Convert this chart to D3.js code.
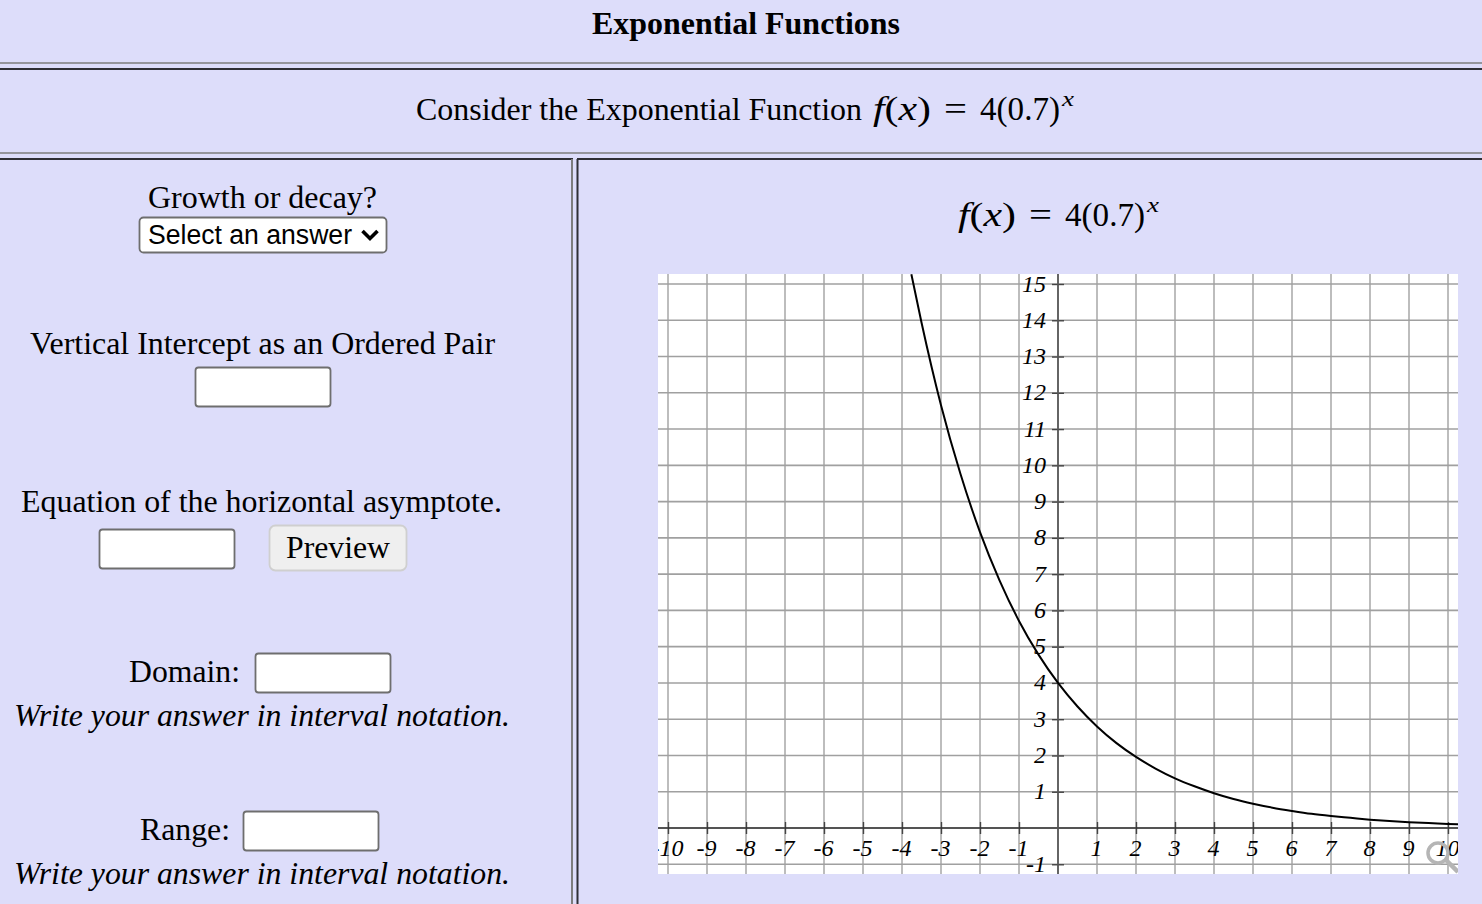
<!DOCTYPE html>
<html><head><meta charset="utf-8">
<script src="https://cdn.jsdelivr.net/npm/d3@7"></script>
<style>
html,body{margin:0;padding:0;background:#ddddfa;overflow:hidden}
svg{display:block}
text{font-family:"Liberation Serif","Times New Roman",serif;fill:#000}
</style></head><body>
<svg id="page" width="1482" height="904"></svg>
<script>
// chart data
const curveX = [-3.76,-3.5,-3,-2.5,-2,-1.5,-1,-0.5,0,0.5,1,1.5,2,2.5,3,3.5,4,4.5,5,5.5,6,6.5,7,7.5,8,8.5,9,9.5,10,10.26];
const curveY = [15.27,13.94,11.66,9.76,8.16,6.83,5.71,4.78,4,3.35,2.8,2.34,1.96,1.64,1.37,1.15,0.96,0.80,0.67,0.56,0.47,0.39,0.33,0.28,0.23,0.19,0.16,0.135,0.113,0.10];
const xTicks = [-10,-9,-8,-7,-6,-5,-4,-3,-2,-1,1,2,3,4,5,6,7,8,9,10];
const yTicks = [-1,1,2,3,4,5,6,7,8,9,10,11,12,13,14,15];
const gridX = [-10,-9,-8,-7,-6,-5,-4,-3,-2,-1,0,1,2,3,4,5,6,7,8,9,10];
const gridY = [-1,0,1,2,3,4,5,6,7,8,9,10,11,12,13,14,15];
const pageTitle = "Exponential Functions";
const prompt = "Consider the Exponential Function";
const labels = ["Growth or decay?","Vertical Intercept as an Ordered Pair","Equation of the horizontal asymptote.","Domain:","Range:"];
const hint = "Write your answer in interval notation.";
const selectLabel = "Select an answer";
const buttonLabel = "Preview";

const svg = d3.select("#page");
const W = 1482, H = 904;
const plot = {l:658, r:1458, t:274, b:874};

function line(x1,y1,x2,y2,c,w){svg.append("line").attr("x1",x1).attr("y1",y1).attr("x2",x2).attr("y2",y2).attr("stroke",c).attr("stroke-width",w);}
function txt(s,x,y,len,o={}){
  return svg.append("text").attr("x",x).attr("y",y).attr("font-size",o.size||32)
    .attr("font-weight",o.bold?"bold":null).attr("font-style",o.italic?"italic":null)
    .attr("textLength",len).attr("lengthAdjust","spacingAndGlyphs")
    .style("font-family",o.family||null).text(s);
}
function box(x,y,w,h){svg.append("rect").attr("x",x+.5).attr("y",y+.5).attr("width",w-1).attr("height",h-1).attr("rx",3).attr("fill","#fff").attr("stroke","#6e6e6e").attr("stroke-width",1.8);}
function formula(x0,base){
  const a = svg.append("text").attr("x",x0).attr("y",base).attr("font-size",34)
    .attr("textLength",58).attr("lengthAdjust","spacingAndGlyphs");
  a.append("tspan").attr("font-style","italic").text("f");
  a.append("tspan").text("(");
  a.append("tspan").attr("font-style","italic").text("x");
  a.append("tspan").text(")");
  txt("=",x0+71,base,23,{size:34});
  txt("4(0.7)",x0+107,base,80,{size:34});
  txt("x",x0+189,base-14,12,{size:21,italic:true});
}

// page frame
line(0,63,W,63,"#7d7d7d",1.6);
line(0,69,W,69,"#2f2f35",2);
line(0,153,W,153,"#7d7d7d",1.6);
line(0,159,573,159,"#2f2f35",2);
line(577,159,W,159,"#2f2f35",2);
line(572,159,572,H,"#7d7d7d",2);
line(577.5,159,577.5,H,"#2f2f35",2);

// headings
txt(pageTitle,592,34,308,{bold:true});
txt(prompt,416,120,446);
formula(873,120);
formula(958,226);

// left form
txt(labels[0],148,208,229);
svg.append("rect").attr("x",139.5).attr("y",217.5).attr("width",247).attr("height",35).attr("rx",4).attr("fill","#fff").attr("stroke","#6e6e6e").attr("stroke-width",1.8);
txt(selectLabel,148,244,204,{size:27,family:"'Liberation Sans',Arial,sans-serif"});
svg.append("path").attr("d","M362.5 231l7.5 7.5 7.5-7.5").attr("fill","none").attr("stroke","#000").attr("stroke-width",3.6);
txt(labels[1],30,354,465);
box(195,367,136,40);
txt(labels[2],21,512,481);
box(99,529,136,40);
svg.append("rect").attr("x",269.5).attr("y",525.5).attr("width",137).attr("height",45).attr("rx",6).attr("fill","#efefef").attr("stroke","#cfcfcf").attr("stroke-width",1.8);
txt(buttonLabel,286,558,104);
txt(labels[3],129,682,111);
box(255,653,136,40);
txt(hint,14,726,496,{italic:true});
txt(labels[4],140,840,90);
box(243,811,136,40);
txt(hint,14,884,496,{italic:true});

// plot
const x = d3.scaleLinear().domain([-10,10]).range([668,1448]);
const y = d3.scaleLinear().domain([0,15]).range([828,284]);
svg.append("rect").attr("x",plot.l).attr("y",plot.t).attr("width",plot.r-plot.l).attr("height",plot.b-plot.t).attr("fill","#fff");
const defs = svg.append("defs");
defs.append("clipPath").attr("id","plotclip").append("rect").attr("x",plot.l).attr("y",plot.t).attr("width",plot.r-plot.l).attr("height",plot.b-plot.t);
const g = svg.append("g").attr("clip-path","url(#plotclip)");

g.append("g").selectAll("line").data(gridX).join("line")
  .attr("x1",d=>x(d)).attr("x2",d=>x(d)).attr("y1",plot.t).attr("y2",plot.b)
  .attr("stroke","#b2b2b2").attr("stroke-width",1.7);
g.append("g").selectAll("line").data(gridY).join("line")
  .attr("x1",plot.l).attr("x2",plot.r).attr("y1",d=>y(d)).attr("y2",d=>y(d))
  .attr("stroke","#a0a0a0").attr("stroke-width",1.6);

const fmt = d => String(d);
const axX = g.append("g").attr("transform",`translate(0,${y(0)})`)
  .call(d3.axisBottom(x).tickValues(xTicks).tickFormat(fmt).tickSize(6).tickPadding(10));
axX.select(".domain").remove();
axX.selectAll(".tick line").attr("y1",-6).attr("y2",6).attr("stroke","#444").attr("stroke-width",1.4);
axX.selectAll(".tick text").attr("y",null).attr("dy",null).attr("transform","translate(-1,28)")
  .attr("font-size",24).attr("font-style","italic").attr("text-anchor","middle")
  .style("font-family","'Liberation Serif',serif").attr("fill","#000");
g.append("line").attr("x1",plot.l).attr("x2",plot.r).attr("y1",y(0)).attr("y2",y(0)).attr("stroke","#333").attr("stroke-width",1.5);

const axY = g.append("g").attr("transform",`translate(${x(0)},0)`)
  .call(d3.axisLeft(y).tickValues(yTicks).tickFormat(fmt).tickSize(6).tickPadding(13));
axY.select(".domain").remove();
axY.selectAll(".tick line").attr("x1",-6).attr("x2",6).attr("stroke","#444").attr("stroke-width",1.4);
axY.selectAll(".tick text").attr("dy",null).attr("y",7).attr("x",-12)
  .attr("font-size",24).attr("font-style","italic").attr("text-anchor","end")
  .style("font-family","'Liberation Serif',serif").attr("fill","#000");
g.append("line").attr("x1",x(0)).attr("x2",x(0)).attr("y1",plot.t).attr("y2",plot.b).attr("stroke","#555").attr("stroke-width",1.7);

g.append("path").datum(d3.zip(curveX,curveY))
  .attr("fill","none").attr("stroke","#000").attr("stroke-width",2)
  .attr("d",d3.line().x(d=>x(d[0])).y(d=>y(d[1])).curve(d3.curveMonotoneX));

// zoom glass in the plot corner
const glass = g.append("g").attr("fill","none").attr("stroke","#b5b5b5");
glass.append("circle").attr("cx",1438).attr("cy",853).attr("r",10).attr("stroke-width",3.5);
glass.append("line").attr("x1",1446).attr("y1",860).attr("x2",1458).attr("y2",872).attr("stroke-width",4.5);
</script>
</body></html>
